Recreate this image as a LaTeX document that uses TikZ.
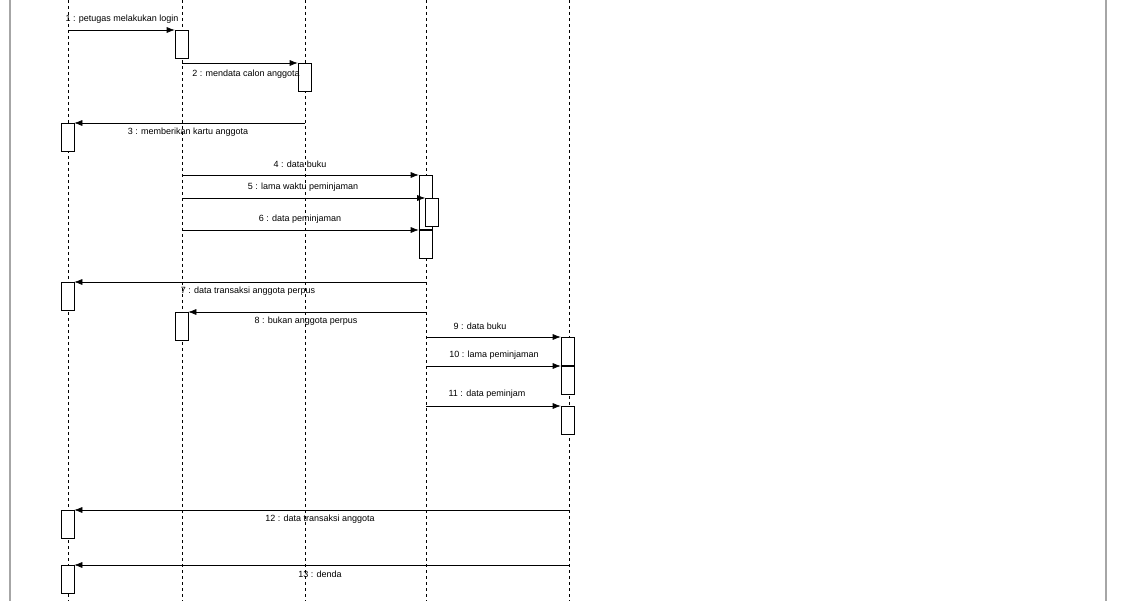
\documentclass[tikz,border=0pt]{standalone}
\usepackage{fontspec}
\setmainfont{Liberation Sans}
\usetikzlibrary{arrows.meta}
\begin{document}
\begin{tikzpicture}[x=1pt,y=-1pt,
 life/.style={dashed,line width=0.6pt},
 act/.style={draw,fill=white,line width=0.6pt,minimum width=13pt,inner sep=0pt,anchor=north},
 msg/.style={-{Latex[length=8pt,width=6pt]},line width=0.6pt},
 lbl/.style={font=\fontsize{9}{10}\selectfont,inner sep=1pt}]
\fill[white] (0,0) rectangle (1146,601);
\useasboundingbox (0,0) rectangle (1146,601);
\draw[gray!70,line width=1.2pt] (10,0) -- (10,601) (1106,0) -- (1106,601);
\foreach \n/\x in {A/68,B/182,C/305,D/426,E/569}{
 \coordinate (\n t) at (\x,0); \coordinate (\n b) at (\x,601);
 \draw[life] (\n t) -- (\n b);}
% activations
\node[act,minimum height=28pt] (b1) at (181.5,30) {};
\node[act,minimum height=28pt] (b2) at (304.5,63) {};
\node[act,minimum height=28pt] (b3) at (67.5,123) {};
\node[act,minimum height=54pt] (b4) at (425.5,175) {};
\node[act,minimum height=28pt] (b5) at (432,198) {};
\node[act,minimum height=28pt] (b6) at (425.5,230) {};
\node[act,minimum height=28pt] (b7) at (67.5,282) {};
\node[act,minimum height=28pt] (b8) at (181.5,312) {};
\node[act,minimum height=28pt] (b9) at (567.5,337) {};
\node[act,minimum height=28pt] (b10) at (567.5,366) {};
\node[act,minimum height=28pt] (b11) at (567.5,406) {};
\node[act,minimum height=28pt] (b12) at (67.5,510) {};
\node[act,minimum height=28pt] (b13) at (67.5,565) {};
% messages
\draw[msg] (68,30) -- (b1.north west);
\node[lbl] (l1) at (122,19) {1 : petugas melakukan login};
\draw[msg] (182,63) -- (b2.north west);
\node[lbl] (l2) at (246,74) {2 : mendata calon anggota};
\draw[msg] (305,123) -- (b3.north east);
\node[lbl] (l3) at (188,132) {3 : memberikan kartu anggota};
\draw[msg] (182,175) -- (b4.north west);
\node[lbl] (l4) at (300,164) {4 : data buku};
\draw[msg] (182,198) -- (b5.north west);
\node[lbl] (l5) at (303,187) {5 : lama waktu peminjaman};
\draw[msg] (182,230) -- (b6.north west);
\node[lbl] (l6) at (300,219) {6 : data peminjaman};
\draw[msg] (426,282) -- (b7.north east);
\node[lbl] (l7) at (248,291) {7 : data transaksi anggota perpus};
\draw[msg] (426,312) -- (b8.north east);
\node[lbl] (l8) at (306,321) {8 : bukan anggota perpus};
\draw[msg] (426,337) -- (b9.north west);
\node[lbl] (l9) at (480,326) {9 : data buku};
\draw[msg] (426,366) -- (b10.north west);
\node[lbl] (l10) at (494,355) {10 : lama peminjaman};
\draw[msg] (426,406) -- (b11.north west);
\node[lbl] (l11) at (487,394) {11 : data peminjam};
\draw[msg] (569,510) -- (b12.north east);
\node[lbl] (l12) at (320,519) {12 : data transaksi anggota};
\draw[msg] (569,565) -- (b13.north east);
\node[lbl] (l13) at (320,574) {13 : denda};
\end{tikzpicture}
\end{document}
